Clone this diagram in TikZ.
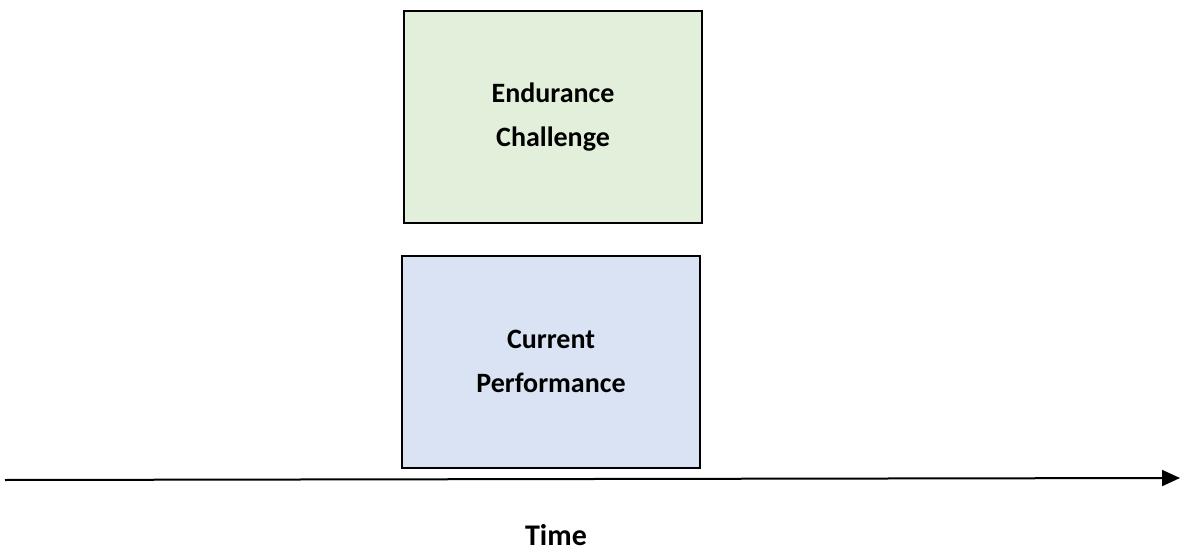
\documentclass[tikz,border=0pt]{standalone}
\usepackage{fontspec}
\setmainfont{Carlito}
\usetikzlibrary{arrows.meta}
\definecolor{gfill}{HTML}{E2EFDA}
\definecolor{bfill}{HTML}{DAE3F3}
\begin{document}
\begin{tikzpicture}[x=1pt,y=-1pt,
  box/.style={draw=black,line width=2pt,minimum width=298pt,minimum height=212pt,align=center,
    font=\fontsize{28}{44}\selectfont\bfseries},
  lbl/.style={font=\fontsize{30}{36}\selectfont\bfseries}]
\useasboundingbox (0,0) rectangle (1189,559);
\node[box,fill=gfill] (ec) at (553,117) {Endurance\\Challenge};
\node[box,fill=bfill] (cp) at (551,361.5) {Current\\Performance};
\coordinate (a0) at (5,480);
\coordinate (a1) at (1180,478);
\draw[line width=2pt,-{Triangle[length=18pt,width=16pt]}] (a0) -- (a1);
\node[lbl] (t) at (556,535) {Time};
\end{tikzpicture}
\end{document}
